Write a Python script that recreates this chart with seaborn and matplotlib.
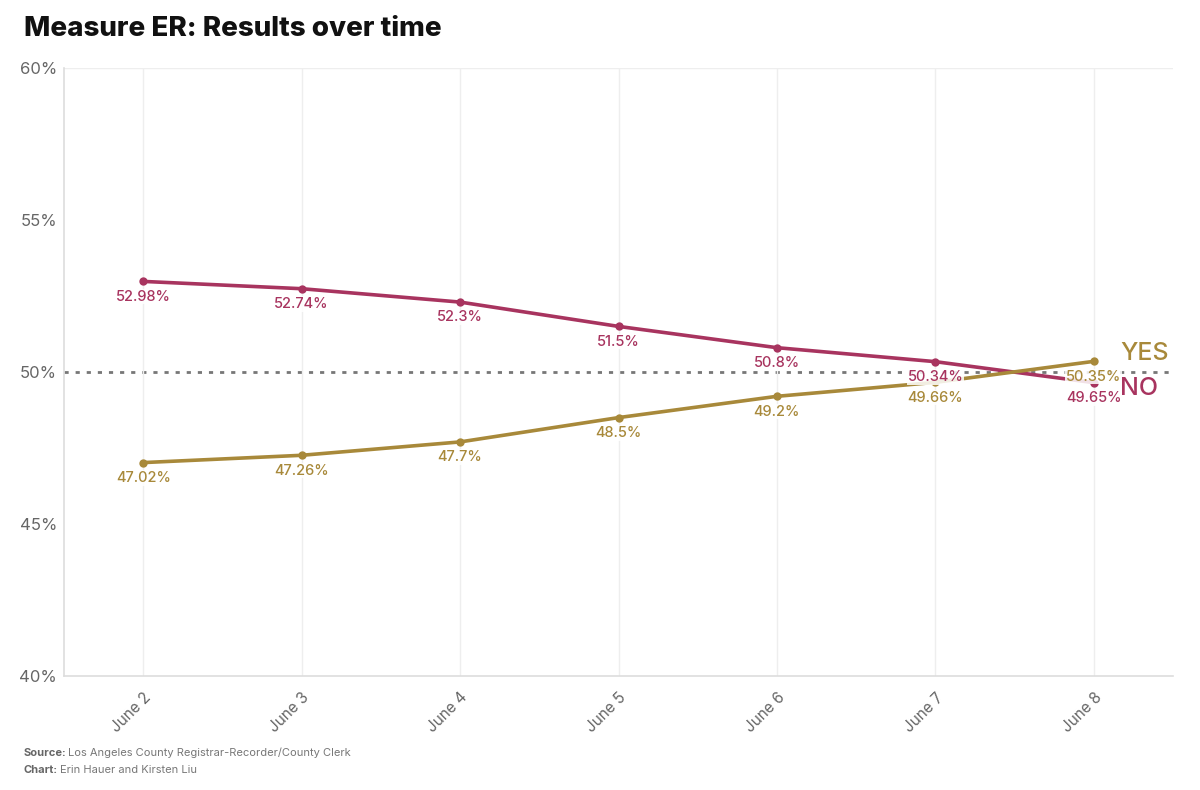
import matplotlib
matplotlib.use("Agg")
import matplotlib.pyplot as plt
import seaborn as sns
import pandas as pd

dates = ["June 2", "June 3", "June 4", "June 5", "June 6", "June 7", "June 8"]
no_vals = [52.98, 52.74, 52.3, 51.5, 50.8, 50.34, 49.65]
yes_vals = [47.02, 47.26, 47.7, 48.5, 49.2, 49.66, 50.35]
no_labels = ["52.98%", "52.74%", "52.3%", "51.5%", "50.8%", "50.34%", "49.65%"]
yes_labels = ["47.02%", "47.26%", "47.7%", "48.5%", "49.2%", "49.66%", "50.35%"]
y_ticks = [40, 45, 50, 55, 60]

NO_C = "#A8345F"
YES_C = "#A8893A"

sns.set_theme(style="white")
plt.rcParams["font.family"] = ["Inter", "DejaVu Sans"]

df = pd.DataFrame({
    "x": list(range(len(dates))) * 2,
    "val": no_vals + yes_vals,
    "series": ["NO"] * len(dates) + ["YES"] * len(dates),
})

fig = plt.figure(figsize=(12, 7.9), dpi=100)
ax = fig.add_axes([64 / 1200, 1 - 676 / 790, (1173 - 64) / 1200, (676 - 68) / 790])

sns.lineplot(data=df, x="x", y="val", hue="series", palette={"NO": NO_C, "YES": YES_C},
             marker="o", markersize=6, markeredgewidth=0, linewidth=2.6, legend=False, ax=ax)

ax.axhline(50, color="#777777", linestyle=(0, (1.5, 2.5)), linewidth=2, zorder=0)

ax.set_xlim(-0.5, 6.5)
ax.set_ylim(40, 60)
ax.set_yticks(y_ticks)
ax.set_yticklabels([f"{v}%" for v in y_ticks])
ax.set_xticks(range(len(dates)))
ax.set_xticklabels(dates, rotation=45, ha="right", rotation_mode="anchor")
ax.set_xlabel("")
ax.set_ylabel("")

for x in range(len(dates)):
    ax.axvline(x, color="#eeeeee", linewidth=1, zorder=0)
ax.axhline(60, color="#eeeeee", linewidth=1, zorder=0)

for s in ["top", "right"]:
    ax.spines[s].set_visible(False)
for s in ["left", "bottom"]:
    ax.spines[s].set_color("#dddddd")
    ax.spines[s].set_linewidth(1.2)

ax.tick_params(axis="y", length=0, labelsize=12, labelcolor="#666666", pad=5)
ax.tick_params(axis="x", length=6, color="#dddddd", labelsize=11, labelcolor="#666666", pad=4)

box = dict(boxstyle="square,pad=0.05", facecolor="white", edgecolor="none", alpha=0.85)
for i in range(len(dates)):
    ax.annotate(no_labels[i], (i, no_vals[i]), xytext=(0, -11), textcoords="offset points",
                ha="center", va="center", color=NO_C, fontsize=10.5, fontweight="medium",
                bbox=box, zorder=5)
    ax.annotate(yes_labels[i], (i, yes_vals[i]), xytext=(0, -11), textcoords="offset points",
                ha="center", va="center", color=YES_C, fontsize=10.5, fontweight="medium",
                bbox=box, zorder=5)
last = len(dates) - 1
ax.annotate("YES", (last, yes_vals[last]), xytext=(19, 6), textcoords="offset points",
            ha="left", va="center", color=YES_C, fontsize=18, fontweight="medium")
ax.annotate("NO", (last, no_vals[last]), xytext=(19, -4.5), textcoords="offset points",
            ha="left", va="center", color=NO_C, fontsize=18, fontweight="medium")

fig.text(24 / 1200, 1 - 29 / 790, "Measure ER: Results over time", fontsize=20,
         fontweight="heavy", color="#111111", va="center", ha="left")

fig.text(24 / 1200, 1 - 753 / 790, "Source:", fontsize=8, fontweight="bold", color="#666666", va="center")
fig.text(68 / 1200, 1 - 753 / 790, "Los Angeles County Registrar-Recorder/County Clerk", fontsize=8,
         color="#777777", va="center")
fig.text(24 / 1200, 1 - 770 / 790, "Chart:", fontsize=8, fontweight="bold", color="#666666", va="center")
fig.text(60 / 1200, 1 - 770 / 790, "Erin Hauer and Kirsten Liu", fontsize=8, color="#777777", va="center")

fig.savefig("out.png", dpi=100, facecolor="white")
